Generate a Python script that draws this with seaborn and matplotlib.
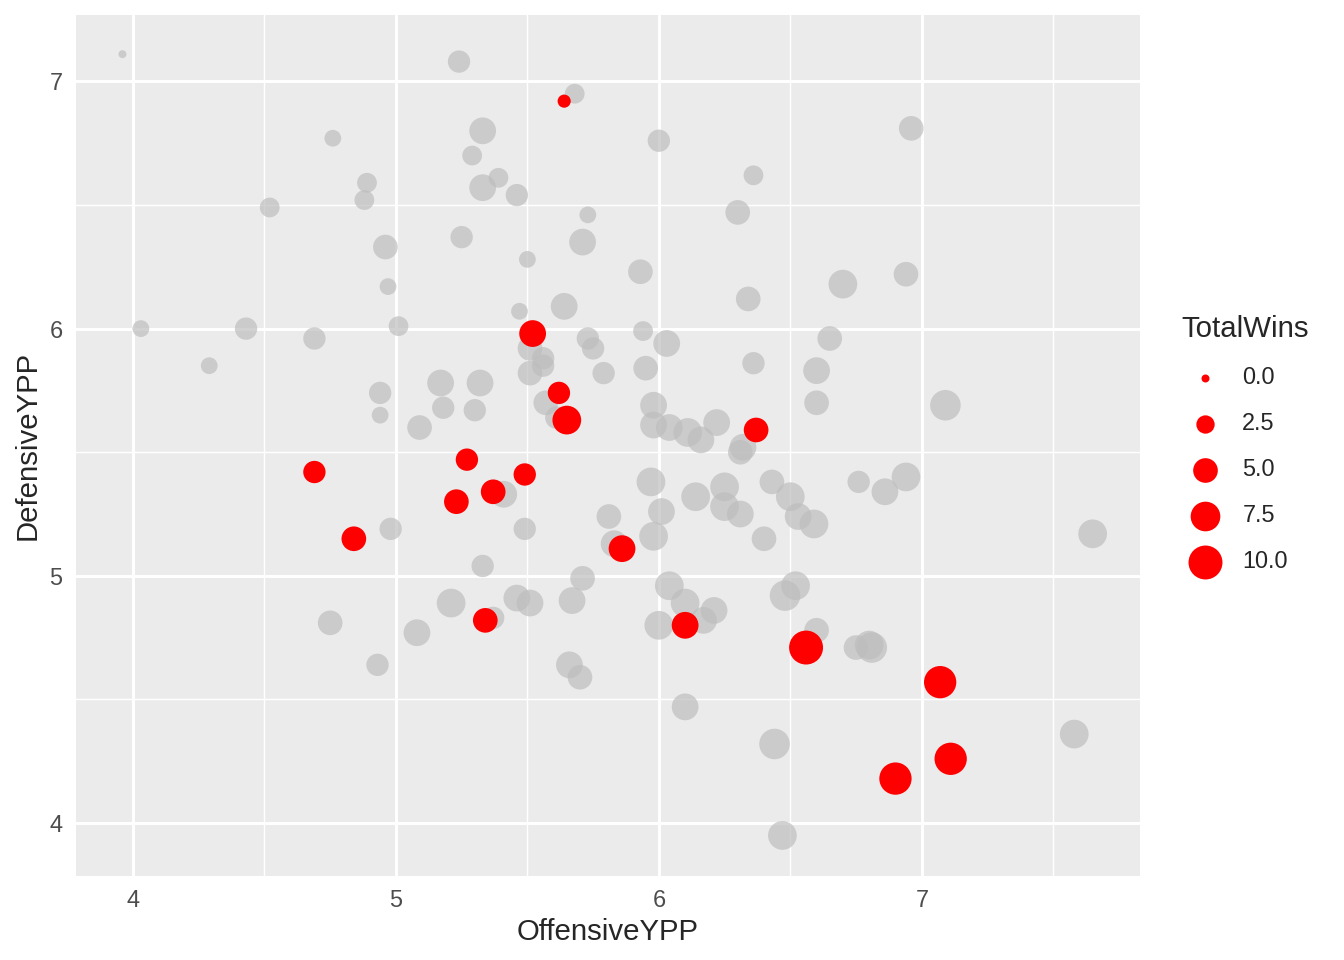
import pandas as pd
import matplotlib.pyplot as plt
import seaborn as sns

# Other teams (grey)
grey_off = [3.96, 5.24, 5.68, 4.76, 5.33, 5.29, 5.39, 5.33, 5.46, 4.89, 4.88, 4.52, 5.73, 5.25, 5.71,
            4.96, 4.97, 5.50, 5.01, 4.03, 4.43, 4.69, 4.29, 5.47, 5.64, 5.94, 5.73, 5.75, 5.51, 5.56,
            5.51, 5.56, 5.79, 5.95, 4.94, 4.94, 5.17, 5.32, 5.18, 5.30, 5.09, 5.57, 5.61, 5.98, 5.98,
            6.04, 6.11, 6.16, 6.22, 6.31, 6.32, 6.03, 6.00, 6.36, 6.30, 6.34, 5.93, 6.36, 6.70, 6.96,
            6.94, 6.65, 6.60, 6.60, 7.09, 6.76, 6.86, 6.94, 6.43, 6.50, 6.53, 6.59, 6.40, 6.31, 6.25,
            6.25, 6.14, 6.01, 5.98, 5.97, 5.81, 5.83, 5.71, 5.67, 4.98, 5.33, 5.49, 5.41, 5.21, 5.46,
            5.51, 5.37, 4.75, 5.08, 4.93, 5.66, 5.70, 6.04, 6.10, 6.00, 6.17, 6.21, 6.52, 6.48, 6.60,
            6.75, 6.81, 6.80, 6.10, 6.44, 6.47, 7.65, 7.58]
grey_def = [7.11, 7.08, 6.95, 6.77, 6.80, 6.70, 6.61, 6.57, 6.54, 6.59, 6.52, 6.49, 6.46, 6.37, 6.35,
            6.33, 6.17, 6.28, 6.01, 6.00, 6.00, 5.96, 5.85, 6.07, 6.09, 5.99, 5.96, 5.92, 5.92, 5.88,
            5.82, 5.85, 5.82, 5.84, 5.74, 5.65, 5.78, 5.78, 5.68, 5.67, 5.60, 5.70, 5.64, 5.69, 5.61,
            5.60, 5.58, 5.55, 5.62, 5.50, 5.52, 5.94, 6.76, 6.62, 6.47, 6.12, 6.23, 5.86, 6.18, 6.81,
            6.22, 5.96, 5.83, 5.70, 5.69, 5.38, 5.34, 5.40, 5.38, 5.32, 5.24, 5.21, 5.15, 5.25, 5.28,
            5.36, 5.32, 5.26, 5.16, 5.38, 5.24, 5.13, 4.99, 4.90, 5.19, 5.04, 5.19, 5.33, 4.89, 4.91,
            4.89, 4.83, 4.81, 4.77, 4.64, 4.64, 4.59, 4.96, 4.89, 4.80, 4.82, 4.86, 4.96, 4.92, 4.78,
            4.71, 4.71, 4.72, 4.47, 4.32, 3.95, 5.17, 4.36]
grey_wins = [0, 4, 3, 2, 6, 3, 3, 6, 4, 3, 3, 3, 2, 4, 6, 5, 2, 2, 3, 2, 4, 4, 2, 2, 6, 3, 4, 4, 5, 4,
             5, 4, 4, 5, 4, 2, 6, 6, 4, 4, 5, 5, 4, 6, 6, 6, 7, 6, 6, 5, 6, 6, 4, 3, 5, 5, 5, 4, 7, 5,
             5, 5, 6, 5, 8, 4, 6, 7, 5, 7, 6, 7, 5, 6, 7, 7, 7, 6, 7, 7, 5, 6, 5, 6, 4, 4, 4, 6, 7, 6,
             6, 4, 5, 6, 4, 6, 5, 7, 7, 7, 6, 6, 7, 8, 5, 5, 8, 7, 6, 8, 7, 7, 7]

# Highlighted teams (red)
red_off = [5.64, 5.52, 5.62, 5.65, 6.37, 4.69, 5.27, 5.49, 5.23, 5.37, 4.84, 5.86, 5.34, 6.10, 6.56,
           7.07, 7.11, 6.90]
red_def = [6.92, 5.98, 5.74, 5.63, 5.59, 5.42, 5.47, 5.41, 5.30, 5.34, 5.15, 5.11, 4.82, 4.80, 4.71,
           4.57, 4.26, 4.18]
red_wins = [1, 6, 4, 7, 5, 4, 4, 4, 5, 5, 5, 6, 5, 6, 10, 9, 9, 9]

legend_wins = [0.0, 2.5, 5.0, 7.5, 10.0]

grey_df = pd.DataFrame({"OffensiveYPP": grey_off, "DefensiveYPP": grey_def, "TotalWins": grey_wins})
red_df = pd.DataFrame({"OffensiveYPP": red_off, "DefensiveYPP": red_def, "TotalWins": red_wins})

sns.set_style("darkgrid", {"axes.facecolor": "#EBEBEB", "grid.color": "white"})
plt.rcParams['font.family'] = ['Liberation Sans', 'DejaVu Sans']

fig = plt.figure(figsize=(7, 5), dpi=192)
ax = fig.add_axes([0.0565, 0.0875, 0.7915, 0.8965])

size_kw = dict(size="TotalWins", sizes=(9, 162), size_norm=(0, 10), legend=False, linewidth=0)
sns.scatterplot(data=grey_df, x="OffensiveYPP", y="DefensiveYPP", color="#bebebe", alpha=0.7, ax=ax, **size_kw)
sns.scatterplot(data=red_df, x="OffensiveYPP", y="DefensiveYPP", color="red", ax=ax, **size_kw)

ax.set_xlim(3.783, 7.829)
ax.set_ylim(3.786, 7.267)
ax.set_xticks([4, 5, 6, 7])
ax.set_yticks([4, 5, 6, 7])
ax.set_xticks([4.5, 5.5, 6.5, 7.5], minor=True)
ax.set_yticks([4.5, 5.5, 6.5], minor=True)
ax.grid(which="major", color="white", linewidth=1.1)
ax.grid(which="minor", color="white", linewidth=0.55)
ax.tick_params(which="major", length=3, color="#333333", labelcolor="#4D4D4D", labelsize=8.8, pad=2)
ax.tick_params(which="minor", length=0)
for s in ax.spines.values():
    s.set_visible(False)
ax.set_xlabel("OffensiveYPP", fontsize=11, labelpad=2)
ax.set_ylabel("DefensiveYPP", fontsize=11, labelpad=3)

# size legend
handles = [ax.scatter([], [], s=9 + 15.3 * w, color="red", linewidth=0) for w in legend_wins]
leg = fig.legend(handles, [f"{w:.1f}" for w in legend_wins], title="TotalWins",
                 loc="center left", bbox_to_anchor=(0.872, 0.537), frameon=False,
                 fontsize=8.8, title_fontsize=11, labelspacing=0.98, handletextpad=0.6,
                 borderaxespad=0)
leg._legend_box.align = "left"

fig.savefig("out.png", dpi=192)
